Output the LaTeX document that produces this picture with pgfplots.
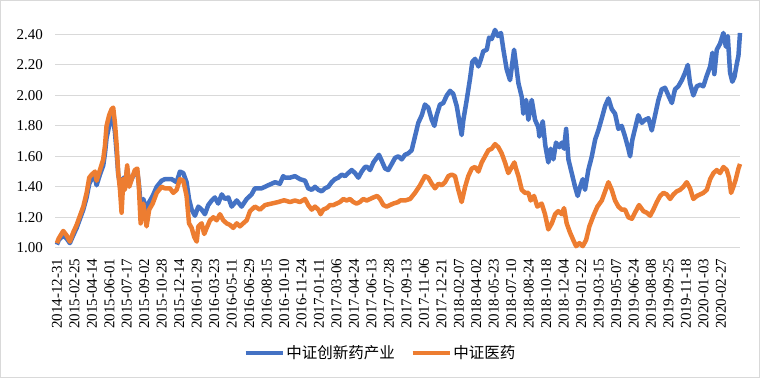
\documentclass[border=0pt]{standalone}
\usepackage{fontspec}
\setmainfont{Liberation Serif}
\newfontfamily\cjk{Noto Sans CJK SC}
\usepackage{pgfplots}
\pgfplotsset{compat=1.18}
\definecolor{cblue}{HTML}{4472C4}
\definecolor{corange}{HTML}{ED7D31}
\definecolor{cgrid}{HTML}{D9D9D9}
\begin{document}
\fontsize{15bp}{18bp}\selectfont
\begin{tikzpicture}[x=1bp,y=1bp]
\useasboundingbox (0,0) rectangle (760,378);
\draw[cgrid, line width=1bp] (0.5,0.5) rectangle (759.5,377.5);
\begin{axis}[
  at={(55bp,130.3bp)}, anchor=south west,
  scale only axis, width=685bp, height=213.2bp,
  xmin=-0.11, xmax=39.09, ymin=1, ymax=2.4,
  clip=false,
  axis x line*=bottom, axis y line*=left,
  x axis line style={cgrid, line width=1bp, -},
  y axis line style={draw=none},
  major tick length=0pt,
  ymajorgrids, grid style={cgrid, line width=1bp},
  ytick={1,1.2,1.4,1.6,1.8,2.0,2.2,2.4},
  yticklabel style={/pgf/number format/.cd, fixed, fixed zerofill, precision=2, assume math mode=true},
  yticklabel shift=7bp,
  tick label style={font=\fontsize{15bp}{18bp}\selectfont, text=black},
  xtick={0,...,38},
  xticklabels={2014-12-31,2015-02-25,2015-04-14,2015-06-01,2015-07-17,2015-09-02,2015-10-28,2015-12-14,2016-01-29,2016-03-23,2016-05-11,2016-06-29,2016-08-15,2016-10-10,2016-11-24,2017-01-11,2017-03-06,2017-04-24,2017-06-13,2017-07-28,2017-09-13,2017-11-06,2017-12-21,2018-02-07,2018-04-02,2018-05-23,2018-07-10,2018-08-24,2018-10-18,2018-12-04,2019-01-22,2019-03-15,2019-05-07,2019-06-24,2019-08-08,2019-09-25,2019-11-18,2020-01-03,2020-02-27},
  xticklabel style={rotate=90, anchor=east},
  xticklabel shift=6bp,
  legend columns=2,
  legend style={at={(axis description cs:0.4745,-0.494)}, anchor=center, draw=none, fill=none,
    font=\cjk\fontsize{15.5bp}{18bp}\selectfont,
    /tikz/every even column/.append style={column sep=14bp},
    nodes={inner sep=1.5bp}},
  legend image code/.code={\draw[#1, line width=4.5bp] (0bp,0bp) -- (37bp,0bp);},
]
\addplot[cblue, line width=4.5bp, line join=round] coordinates {
(0,1.02) (0.1,1.05) (0.36,1.08) (0.56,1.06) (0.74,1.03) (0.93,1.08) (1.13,1.13) (1.32,1.19) (1.51,1.25) (1.70,1.33)
(1.85,1.42) (1.99,1.45) (2.18,1.46) (2.27,1.41) (2.46,1.48) (2.65,1.54) (2.75,1.62) (2.84,1.72) (2.99,1.80) (3.13,1.86)
(3.22,1.84) (3.32,1.76) (3.42,1.62) (3.51,1.48) (3.61,1.42) (3.70,1.36) (3.80,1.46) (3.89,1.40) (4.02,1.52) (4.14,1.42)
(4.28,1.45) (4.46,1.50) (4.60,1.50) (4.69,1.42) (4.79,1.28) (4.94,1.32) (5.13,1.25) (5.28,1.30) (5.48,1.34) (5.71,1.40)
(5.99,1.44) (6.18,1.45) (6.57,1.45) (6.85,1.43) (7.04,1.50) (7.23,1.49) (7.42,1.43) (7.56,1.32) (7.71,1.25) (7.90,1.21)
(8.09,1.27) (8.28,1.25) (8.47,1.22) (8.66,1.28) (8.86,1.31) (9.04,1.33) (9.23,1.29) (9.43,1.35) (9.62,1.32) (9.81,1.33)
(10.00,1.27) (10.29,1.31) (10.57,1.27) (10.86,1.32) (11.14,1.35) (11.33,1.39) (11.72,1.39) (12.09,1.41) (12.48,1.43) (12.76,1.42)
(12.95,1.47) (13.05,1.46) (13.34,1.46) (13.62,1.47) (13.91,1.45) (14.20,1.44) (14.38,1.39) (14.58,1.38) (14.77,1.40) (14.96,1.38)
(15.15,1.37) (15.34,1.39) (15.53,1.40) (15.72,1.43) (15.91,1.45) (16.10,1.46) (16.30,1.48) (16.49,1.47) (16.67,1.49) (16.87,1.51)
(17.06,1.49) (17.25,1.46) (17.44,1.50) (17.63,1.53) (17.76,1.53) (17.92,1.51) (18.11,1.56) (18.30,1.59) (18.43,1.61) (18.59,1.57)
(18.78,1.52) (18.96,1.51) (19.16,1.55) (19.35,1.59) (19.54,1.60) (19.73,1.58) (19.92,1.61) (20.11,1.62) (20.30,1.64) (20.49,1.73)
(20.68,1.82) (20.88,1.87) (21.06,1.94) (21.25,1.92) (21.45,1.84) (21.60,1.80) (21.73,1.87) (21.92,1.94) (22.11,1.95) (22.31,2.00)
(22.50,2.03) (22.68,2.01) (22.88,1.93) (23.07,1.80) (23.16,1.74) (23.26,1.84) (23.45,1.97) (23.64,2.11) (23.77,2.22) (23.93,2.24)
(24.12,2.19) (24.27,2.24) (24.40,2.29) (24.60,2.30) (24.73,2.38) (24.88,2.37) (25.07,2.43) (25.23,2.39) (25.41,2.41) (25.55,2.30)
(25.74,2.17) (25.93,2.10) (26.16,2.30) (26.31,2.17) (26.41,2.08) (26.60,1.99) (26.69,1.88) (26.85,1.97) (26.98,1.84) (27.17,1.97)
(27.36,1.84) (27.55,1.79) (27.61,1.73) (27.80,1.83) (27.95,1.67) (28.12,1.56) (28.26,1.65) (28.41,1.58) (28.56,1.69) (28.75,1.66)
(28.89,1.69) (29.02,1.65) (29.14,1.78) (29.27,1.58) (29.46,1.49) (29.65,1.40) (29.80,1.34) (29.94,1.40) (30.09,1.45) (30.22,1.38)
(30.41,1.51) (30.61,1.60) (30.80,1.71) (30.98,1.77) (31.18,1.85) (31.37,1.93) (31.56,1.98) (31.75,1.91) (31.94,1.88) (32.13,1.78)
(32.32,1.80) (32.51,1.73) (32.70,1.65) (32.80,1.60) (32.93,1.71) (33.08,1.78) (33.27,1.87) (33.47,1.82) (33.66,1.84) (33.85,1.85)
(34.04,1.77) (34.23,1.87) (34.42,1.97) (34.61,2.04) (34.80,2.05) (34.99,2.00) (35.19,1.95) (35.37,2.04) (35.56,2.06) (35.76,2.10)
(35.95,2.15) (36.10,2.20) (36.23,2.08) (36.42,2.00) (36.62,2.06) (36.81,2.07) (36.99,2.06) (37.19,2.13) (37.38,2.19) (37.51,2.28)
(37.62,2.14) (37.76,2.30) (37.95,2.34) (38.14,2.41) (38.28,2.32) (38.39,2.39) (38.52,2.15) (38.65,2.09) (38.77,2.12) (38.91,2.21)
(39.00,2.26) (39.09,2.41)
};
\addlegendentry{中证创新药产业}
\addplot[corange, line width=4.5bp, line join=round] coordinates {
(0,1.03) (0.1,1.06) (0.36,1.11) (0.56,1.08) (0.74,1.04) (0.93,1.10) (1.13,1.15) (1.32,1.21) (1.51,1.27) (1.70,1.36)
(1.85,1.46) (1.99,1.48) (2.18,1.50) (2.27,1.44) (2.46,1.51) (2.65,1.58) (2.75,1.67) (2.84,1.80) (2.99,1.87) (3.13,1.91)
(3.22,1.92) (3.32,1.82) (3.42,1.67) (3.51,1.49) (3.61,1.38) (3.70,1.23) (3.80,1.45) (3.89,1.38) (4.02,1.54) (4.14,1.40)
(4.28,1.45) (4.46,1.51) (4.60,1.52) (4.69,1.40) (4.79,1.16) (4.94,1.29) (5.13,1.14) (5.28,1.25) (5.48,1.29) (5.71,1.36)
(5.99,1.40) (6.18,1.39) (6.47,1.39) (6.66,1.36) (6.85,1.38) (7.04,1.45) (7.23,1.44) (7.42,1.34) (7.56,1.16) (7.71,1.13)
(7.86,1.07) (8.00,1.04) (8.09,1.14) (8.28,1.16) (8.43,1.09) (8.57,1.13) (8.76,1.18) (8.95,1.20) (9.14,1.18) (9.33,1.22)
(9.52,1.18) (9.71,1.16) (9.90,1.15) (10.09,1.13) (10.29,1.16) (10.47,1.14) (10.66,1.16) (10.86,1.18) (11.05,1.24) (11.33,1.27)
(11.62,1.25) (11.91,1.28) (12.29,1.29) (12.67,1.30) (12.95,1.31) (13.05,1.31) (13.34,1.30) (13.62,1.31) (13.91,1.30) (14.20,1.32)
(14.38,1.28) (14.58,1.25) (14.77,1.27) (14.96,1.25) (15.09,1.22) (15.24,1.25) (15.44,1.26) (15.63,1.28) (15.82,1.28) (16.01,1.29)
(16.20,1.30) (16.39,1.32) (16.58,1.31) (16.77,1.32) (16.96,1.30) (17.15,1.29) (17.34,1.30) (17.53,1.32) (17.73,1.31) (17.92,1.32)
(18.11,1.33) (18.33,1.34) (18.49,1.32) (18.68,1.28) (18.87,1.27) (19.06,1.28) (19.25,1.29) (19.54,1.30) (19.63,1.31) (19.92,1.31)
(20.21,1.32) (20.49,1.36) (20.78,1.41) (21.06,1.47) (21.25,1.46) (21.45,1.42) (21.64,1.39) (21.83,1.42) (22.02,1.41) (22.21,1.43)
(22.40,1.47) (22.59,1.48) (22.78,1.47) (22.97,1.38) (23.16,1.30) (23.36,1.40) (23.54,1.47) (23.74,1.52) (23.93,1.53) (24.12,1.50)
(24.31,1.56) (24.50,1.60) (24.69,1.64) (24.88,1.65) (25.07,1.68) (25.26,1.66) (25.45,1.62) (25.64,1.56) (25.83,1.49) (26.03,1.53)
(26.18,1.56) (26.27,1.52) (26.41,1.47) (26.60,1.38) (26.79,1.36) (26.98,1.36) (27.11,1.31) (27.30,1.34) (27.49,1.27) (27.74,1.29)
(27.93,1.22) (28.12,1.12) (28.32,1.16) (28.51,1.22) (28.69,1.24) (28.89,1.22) (29.02,1.26) (29.17,1.16) (29.36,1.10) (29.55,1.05)
(29.71,1.01) (29.90,1.03) (30.09,1.01) (30.28,1.05) (30.47,1.14) (30.70,1.21) (30.93,1.27) (31.18,1.31) (31.37,1.37) (31.56,1.43)
(31.75,1.38) (31.94,1.31) (32.13,1.27) (32.32,1.25) (32.51,1.25) (32.70,1.20) (32.90,1.19) (33.08,1.23) (33.31,1.28) (33.56,1.24)
(33.75,1.23) (33.95,1.21) (34.13,1.25) (34.33,1.30) (34.52,1.34) (34.71,1.36) (34.90,1.35) (35.09,1.32) (35.28,1.35) (35.47,1.37)
(35.66,1.38) (35.85,1.40) (36.04,1.43) (36.23,1.39) (36.42,1.32) (36.62,1.34) (36.81,1.35) (36.99,1.36) (37.19,1.38) (37.38,1.45)
(37.57,1.49) (37.76,1.51) (37.95,1.49) (38.14,1.53) (38.33,1.51) (38.46,1.46) (38.58,1.36) (38.71,1.40) (38.85,1.45) (39.00,1.52)
(39.09,1.55)
};
\addlegendentry{中证医药}
\end{axis}
\end{tikzpicture}
\end{document}
